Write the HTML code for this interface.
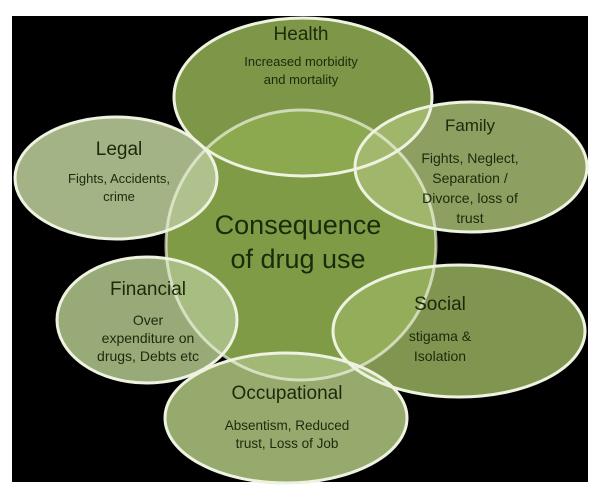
<!DOCTYPE html>
<html><head><meta charset="utf-8"><style>
html,body{margin:0;padding:0;background:#fff;}
svg{display:block;}
text{font-family:"Liberation Sans",sans-serif;fill:#1c2a0c;text-anchor:middle;}
</style></head><body>
<svg width="600" height="500" viewBox="0 0 600 500">
<rect x="0" y="0" width="600" height="500" fill="#fff"/>
<rect x="12" y="16" width="576" height="466" fill="#000"/>
<g stroke="none">
<circle cx="301" cy="245" r="135" fill="#7f9b45"/>
<ellipse cx="303" cy="97" rx="129" ry="79" fill="#8fab52" fill-opacity="0.88"/>
<ellipse cx="116" cy="178" rx="101" ry="61" fill="#b5c795" fill-opacity="0.9"/>
<ellipse cx="471" cy="167" rx="116" ry="65" fill="#a6bc72" fill-opacity="0.85"/>
<ellipse cx="147" cy="320" rx="90" ry="63" fill="#aec28a" fill-opacity="0.88"/>
<ellipse cx="459" cy="331" rx="126" ry="66" fill="#97b05e" fill-opacity="0.85"/>
<ellipse cx="286" cy="418" rx="121" ry="65" fill="#a6bc7a" fill-opacity="0.9"/>
</g>
<g stroke="#eef2e0" stroke-width="3" fill="none">
<circle cx="301" cy="245" r="135" stroke-opacity="0.7"/>
<ellipse cx="303" cy="97" rx="129" ry="79"/>
<ellipse cx="116" cy="178" rx="101" ry="61"/>
<ellipse cx="471" cy="167" rx="116" ry="65"/>
<ellipse cx="147" cy="320" rx="90" ry="63"/>
<ellipse cx="459" cy="331" rx="126" ry="66"/>
<ellipse cx="286" cy="418" rx="121" ry="65"/>
</g>
<text x="301" y="40" font-size="19">Health</text>
<text x="301" y="66" font-size="13">Increased morbidity</text>
<text x="301" y="84" font-size="13">and mortality</text>
<text x="119" y="155" font-size="19">Legal</text>
<text x="119" y="183" font-size="13">Fights, Accidents,</text>
<text x="119" y="201" font-size="13">crime</text>
<text x="470" y="131" font-size="17">Family</text>
<text x="470" y="163" font-size="14">Fights, Neglect,</text>
<text x="470" y="183" font-size="14">Separation /</text>
<text x="470" y="203" font-size="14">Divorce, loss of</text>
<text x="470" y="223" font-size="14">trust</text>
<text x="298" y="234" font-size="27">Consequence</text>
<text x="298" y="268" font-size="27">of drug  use</text>
<text x="148" y="295" font-size="19">Financial</text>
<text x="148" y="325" font-size="14">Over</text>
<text x="148" y="343" font-size="14">expenditure on</text>
<text x="148" y="361" font-size="14">drugs, Debts etc</text>
<text x="440" y="310" font-size="19">Social</text>
<text x="440" y="341" font-size="14">stigama &amp;</text>
<text x="440" y="361" font-size="14">Isolation</text>
<text x="287" y="399" font-size="19">Occupational</text>
<text x="287" y="430" font-size="13.5">Absentism, Reduced</text>
<text x="287" y="448" font-size="13.5">trust, Loss of Job</text>
</svg>
</body></html>
